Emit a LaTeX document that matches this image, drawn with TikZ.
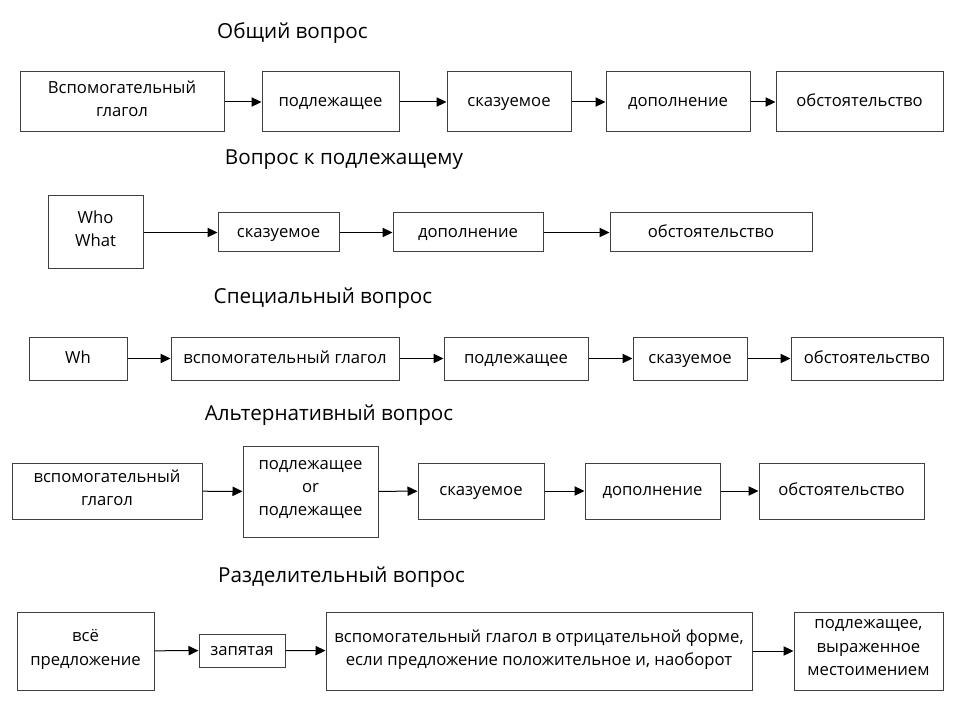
\documentclass[tikz,border=0pt]{standalone}
\usepackage{fontspec}
\setmainfont{Open Sans}
\usetikzlibrary{arrows.meta}

\begin{document}
\begin{tikzpicture}[x=0.75pt,y=-0.75pt]
\tikzstyle{box}=[rectangle, draw=black!75, line width=0.75pt, fill=white,
                        align=center, inner sep=2pt, font=\fontsize{12.5}{17.5}\selectfont,
                        execute at begin node=\strut, execute at end node=\strut]
\tikzstyle{ttl}=[font=\fontsize{15.5}{18}\selectfont]
\tikzstyle{arr}=[line width=0.75pt, -{Triangle[length=7.5pt,width=7pt]}]
\useasboundingbox (0,0) rectangle (960,720);
% Общий вопрос
	\node[ttl] (t1) at (292.5,33){Общий вопрос};
	\node[box, minimum width=153pt, minimum height=45pt] (A1) at (122,102){Вспомогательный\\глагол};
	\node[box, minimum width=102.75pt, minimum height=45pt] (A2) at (330.5,102){подлежащее};
	\node[box, minimum width=93pt, minimum height=45pt] (A3) at (509,102){сказуемое};
	\node[box, minimum width=108pt, minimum height=45pt] (A4) at (678,102){дополнение};
	\node[box, minimum width=125.25pt, minimum height=45pt] (A5) at (859.5,102){обстоятельство};
\draw[arr] (A1)--(A2);
\draw[arr] (A2)--(A3);
\draw[arr] (A3)--(A4);
\draw[arr] (A4)--(A5);
% Вопрос к подлежащему
	\node[ttl] (t2) at (344,160){Вопрос к подлежащему};
	\node[box, minimum width=71.25pt, minimum height=54.75pt] (B1) at (95.5,232.5){Who\\What};
	\node[box, minimum width=90.75pt, minimum height=29.25pt] (B2) at (278.5,232.5){сказуемое};
	\node[box, minimum width=112.5pt, minimum height=29.25pt] (B3) at (468,232.5){дополнение};
	\node[box, minimum width=151.5pt, minimum height=29.25pt] (B4) at (711,232.5){обстоятельство};
\draw[arr] (B1)--(B2);
\draw[arr] (B2)--(B3);
\draw[arr] (B3)--(B4);
% Специальный вопрос
	\node[ttl] (t3) at (323,298){Специальный вопрос};
	\node[box, minimum width=73.5pt, minimum height=32.25pt] (C1) at (78,358.5){Wh};
	\node[box, minimum width=171pt, minimum height=32.25pt] (C2) at (285,358.5){вспомогательный глагол};
	\node[box, minimum width=108pt, minimum height=32.25pt] (C3) at (516,358.5){подлежащее};
	\node[box, minimum width=85.5pt, minimum height=32.25pt] (C4) at (690,358.5){сказуемое};
	\node[box, minimum width=114pt, minimum height=32.25pt] (C5) at (867,358.5){обстоятельство};
\draw[arr] (C1)--(C2);
\draw[arr] (C2)--(C3);
\draw[arr] (C3)--(C4);
\draw[arr] (C4)--(C5);
% Альтернативный вопрос
	\node[ttl] (t4) at (329,415){Альтернативный вопрос};
	\node[box, minimum width=142.5pt, minimum height=42pt] (D1) at (107,491){вспомогательный\\глагол};
	\node[box, minimum width=101.25pt, minimum height=68.25pt] (D2) at (310.5,491.5){подлежащее\\or\\подлежащее};
	\node[box, minimum width=94.5pt, minimum height=42pt] (D3) at (481,491){сказуемое};
	\node[box, minimum width=101.25pt, minimum height=42pt] (D4) at (652.5,491){дополнение};
	\node[box, minimum width=123.75pt, minimum height=42pt] (D5) at (841.5,491){обстоятельство};
\draw[arr] (D1)--(D2);
\draw[arr] (D2)--(D3);
\draw[arr] (D3)--(D4);
\draw[arr] (D4)--(D5);
% Разделительный вопрос
	\node[ttl] (t5) at (341.5,577){Разделительный вопрос};
	\node[box, minimum width=102.75pt, minimum height=58.5pt] (E1) at (85.5,651){всё\\предложение};
	\node[box, minimum width=64.5pt, minimum height=24.75pt] (E2) at (242,650.5){запятая};
	\node[box, minimum width=319.5pt, minimum height=58.5pt] (E3) at (539,651){вспомогательный глагол в отрицательной форме,\\если предложение положительное и, наоборот};
	\node[box, minimum width=111.75pt, minimum height=58.5pt] (E4) at (868.5,651){подлежащее,\\выраженное\\местоимением};
\draw[arr] (E1)--(E2);
\draw[arr] (E2)--(E3);
\draw[arr] (E3)--(E4);
\end{tikzpicture}
\end{document}
